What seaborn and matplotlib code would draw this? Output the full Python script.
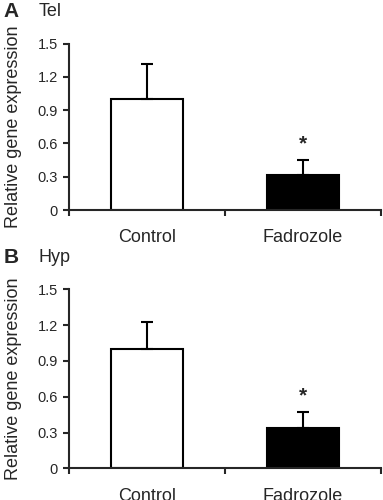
import matplotlib
matplotlib.use("Agg")
import matplotlib.pyplot as plt
import seaborn as sns
import pandas as pd

groups = ["Control", "Fadrozole"]
tel_mean = [1.0, 0.32]
tel_sem = [0.32, 0.135]
hyp_mean = [1.0, 0.335]
hyp_sem = [0.23, 0.135]
yticks = [0, 0.3, 0.6, 0.9, 1.2, 1.5]
ytick_labels = ["0", "0.3", "0.6", "0.9", "1.2", "1.5"]
panels = [("A", "Tel", tel_mean, tel_sem), ("B", "Hyp", hyp_mean, hyp_sem)]

sns.set_style("ticks")
plt.rcParams["font.family"] = ["Liberation Sans", "DejaVu Sans"]

fig = plt.figure(figsize=(3.83, 5.0), dpi=100)
# axes boxes in figure fractions (left, bottom, width, height)
boxes = [[0.180, 0.580, 0.815, 0.3326], [0.180, 0.0634, 0.815, 0.358]]

for (letter, region, means, sems), box in zip(panels, boxes):
    ax = fig.add_axes(box)
    df = pd.DataFrame({"group": groups, "value": means})
    sns.barplot(data=df, x="group", y="value", hue="group",
                palette=["white", "black"], edgecolor="black",
                linewidth=1.5, width=0.46, legend=False, ax=ax)
    ax.errorbar(range(len(groups)), means, yerr=[[0] * len(sems), sems],
                fmt="none", ecolor="black", elinewidth=1.5, capsize=4.5,
                capthick=1.5)
    ax.text(1, means[1] + sems[1] + 0.06, "*", ha="center", va="bottom",
            fontsize=15, fontweight="bold")

    ax.set_xlim(-0.5, 1.5)
    ax.set_ylim(0, 1.5)
    ax.set_yticks(yticks)
    ax.set_yticklabels(ytick_labels, fontsize=10.5)
    ax.set_xticks([0, 1])
    ax.set_xticklabels(groups, fontsize=13)
    ax.set_xticks([-0.5, 0.5, 1.5], minor=True)
    ax.tick_params(axis="x", which="major", length=0, pad=14)
    ax.tick_params(axis="x", which="minor", length=4, width=1.5, direction="out")
    ax.tick_params(axis="y", length=4, width=1.5, direction="out", pad=4)
    ax.set_xlabel("")
    ax.set_ylabel("Relative gene expression", fontsize=13, labelpad=11)
    for side in ["left", "bottom"]:
        ax.spines[side].set_linewidth(1.5)
    sns.despine(ax=ax)

    top = box[1] + box[3]
    fig.text(0.010, top + 0.064, letter, fontsize=15, fontweight="bold",
             va="center")
    fig.text(0.100, top + 0.064, region, fontsize=13, va="center")

fig.savefig("out.png", dpi=100)
